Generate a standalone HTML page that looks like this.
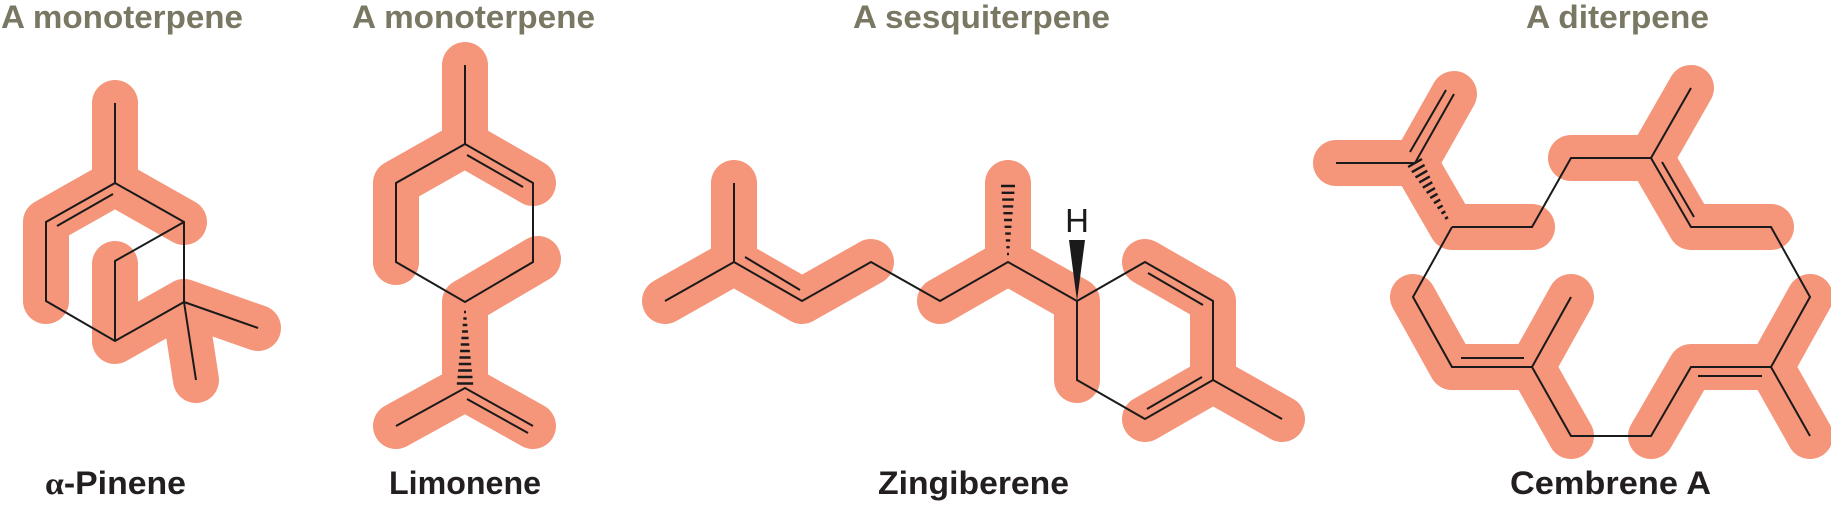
<!DOCTYPE html>
<html><head><meta charset="utf-8"><style>
html,body{margin:0;padding:0;background:#fff;}
svg{display:block;}
</style></head><body>
<svg width="1831" height="505" xmlns="http://www.w3.org/2000/svg">
<g fill="none" stroke="#F5957A" stroke-width="46" stroke-linecap="round" stroke-linejoin="round">
 <!-- pinene -->
 <path d="M115,103 L115,183 L46,222 L46,301 M115,183 L184,222"/>
 <path d="M115,264 L115,341 L184,302 L258,328 M184,302 L196,380"/>
 <!-- limonene -->
 <path d="M465,65 L465,144 L396,183 L396,262 M465,144 L533,183"/>
 <path d="M538,259 L465,302 L465,388 L396,426 M465,388 L533,426"/>
 <!-- zingiberene -->
 <path d="M665,301 L734,262 L802,301 L871,262 M734,183 L734,262"/>
 <path d="M940,301 L1008,262 L1077,301 L1077,380 M1008,183 L1008,262"/>
 <path d="M1145,262 L1213,301 L1213,380 L1145,419 M1213,380 L1282,419"/>
 <!-- cembrene -->
 <path d="M1336,163 L1415,163 L1454,94 M1415,163 L1452,227 L1532,227"/>
 <path d="M1571,158 L1651,158 L1691,88 M1651,158 L1691,227 L1771,227"/>
 <path d="M1413,297 L1452,367 L1532,367 L1571,297 M1532,367 L1571,436"/>
 <path d="M1651,436 L1691,367 L1771,367 L1810,297 M1771,367 L1810,436"/>
</g>
<g fill="none" stroke="#1a1a1a" stroke-width="2" stroke-linejoin="miter">
 <path d="M115,103 L115,183 L46,222 L46,301 L115,341 L184,302 L184,222 L115,183"/>
 <path d="M184,222 L115,261 L115,341 M184,302 L258,328 M184,302 L196,380"/>
 <path d="M57,226 L113,194"/>
 <path d="M465,65 L465,144 L396,183 L396,262 L465,302 L533,262 L533,183 L465,144"/>
 <path d="M467,155 L523,187"/>
 <path d="M396,426 L465,388 L533,426 M467,399 L528,433"/>
 <path d="M665,301 L734,262 L802,301 L871,262 L940,301 L1008,262 L1077,301 M734,183 L734,262"/>
 <path d="M745,257 L800,290"/>
 <path d="M1077,301 L1145,262 L1213,301 L1213,380 L1145,419 L1077,380 Z M1213,380 L1282,419"/>
 <path d="M1148,273 L1203,305 M1147,409 L1202,377"/>
 <path d="M1336,163 L1415,163 L1454,94 M1410,152 L1446,90"/>
 <path d="M1452,227 L1532,227 L1571,158 L1651,158 L1691,88 M1651,158 L1691,227 L1771,227 L1810,297 L1771,367 L1810,436 M1771,367 L1691,367 L1651,436 L1571,436 L1532,367 L1571,297 M1532,367 L1452,367 L1413,297 L1452,227"/>
 <path d="M1662,162 L1694,217 M1698,376 L1762,376 M1461,358 L1524,358"/>
</g>
<g stroke="#1a1a1a" stroke-width="2.4">
 <path d="M464,312h2M463.35,318.5h3.3M462.7,325h4.6M462.05,331.5h5.9M461.4,338h7.2M460.75,344.5h8.5M460.1,351h9.8M459.45,357.5h11.1M458.8,364h12.4M458.15,370.5h13.7M457.5,377h15M456.85,383.5h16.3"/>
 <path d="M1001,186h14M1001.6,192.8h12.8M1002.2,199.6h11.6M1002.8,206.4h10.4M1003.4,213.2h9.2M1004,220h8M1004.6,226.8h6.8M1005.2,233.6h5.6M1005.8,240.4h4.4M1006.4,247.2h3.2M1007,254h2"/>
 <path d="M1408.1,167 l13.9,-8 M1411.8,172.2 l12.8,-7.3 M1415.5,177.4 l11.7,-6.7 M1419.2,182.5 l10.6,-6.1 M1422.8,187.7 l9.5,-5.5 M1426.6,192.9 l8.4,-4.8 M1430.2,198 l7.3,-4.2 M1434,203.2 l6.2,-3.6 M1437.6,208.4 l5.1,-2.9 M1441.4,213.6 l4,-2.3 M1445,218.8 l3,-1.7"/>
</g>
<polygon points="1069,240 1085,240 1077,301" fill="#1a1a1a"/>
<text x="1077" y="232" font-family="Liberation Sans, sans-serif" font-size="33" fill="#1a1a1a" text-anchor="middle">H</text>
<g font-family="Liberation Sans, sans-serif" font-weight="bold" font-size="32" fill="#7a7862">
 <text x="1" y="28" textLength="242" lengthAdjust="spacingAndGlyphs">A monoterpene</text>
 <text x="352" y="28" textLength="243" lengthAdjust="spacingAndGlyphs">A monoterpene</text>
 <text x="853" y="28" textLength="257" lengthAdjust="spacingAndGlyphs">A sesquiterpene</text>
 <text x="1526" y="28" textLength="183" lengthAdjust="spacingAndGlyphs">A diterpene</text>
</g>
<g font-family="Liberation Sans, sans-serif" font-weight="bold" font-size="32" fill="#231f20">
 <text x="45" y="494" textLength="141" lengthAdjust="spacingAndGlyphs"><tspan font-family="Liberation Serif, serif" font-weight="bold">α</tspan>-Pinene</text>
 <text x="389" y="494" textLength="152" lengthAdjust="spacingAndGlyphs">Limonene</text>
 <text x="878" y="494" textLength="191" lengthAdjust="spacingAndGlyphs">Zingiberene</text>
 <text x="1510" y="494" textLength="201" lengthAdjust="spacingAndGlyphs">Cembrene A</text>
</g>
</svg>
</body></html>
